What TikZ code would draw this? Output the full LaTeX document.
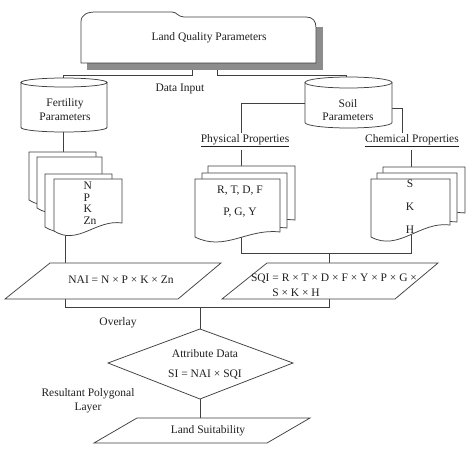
\documentclass[tikz,border=0pt]{standalone}
\usepackage{fontspec}
\setmainfont{Liberation Serif}
\usetikzlibrary{calc}
\definecolor{ln}{HTML}{404040}
\definecolor{shd}{HTML}{8C8C8C}
\definecolor{txt}{HTML}{202020}
\newcommand\docpage[5]{% x0 y0 x1 ybl ybr
  \pgfmathsetmacro\dpw{#3-#1}
  \pgfmathsetmacro\dpa{#1+0.35*\dpw}
  \pgfmathsetmacro\dpb{#1+0.62*\dpw}
  \pgfmathsetmacro\dpc{#4+15}
  \pgfmathsetmacro\dpd{#5-4}
  \draw[shapeline] (#1,#2) -- (#3,#2) -- (#3,#5) .. controls (\dpb,\dpd) and (\dpa,\dpc) .. (#1,#4) -- cycle;
}
\newcommand\cylshape[5]{% cx, cytop, rx, ry, cybottom
  \draw[shapeline] (#1-#3,#2) -- (#1-#3,#5) arc[start angle=180, end angle=0, x radius=#3, y radius=#4] -- (#1+#3,#2);
  \draw[shapeline] (#1,#2) ellipse[x radius=#3, y radius=#4];
}
\begin{document}
\begin{tikzpicture}[x=1pt,y=-1pt,line width=0.75pt,
  conn/.style={draw=ln,line width=0.75pt},
  shapeline/.style={draw=ln,fill=white,line width=0.75pt},
  lbl/.style={text=txt,font=\fontsize{11.5}{13.5}\selectfont,inner sep=0pt,align=center}]
\useasboundingbox[fill=white] (0,0) rectangle (474,449);

% ---------- coordinates for connectors
\coordinate (lqpA) at (192,70);
\coordinate (lqpB) at (217,70);
\coordinate (fertTop) at (63,79);
\coordinate (soilTop) at (346,78);
\coordinate (fertBot) at (63,130);
\coordinate (fdocTop) at (63,152);
\coordinate (soilL) at (305,103);
\coordinate (soilR) at (392,108);
\coordinate (physTop) at (241,133);
\coordinate (chemTop) at (402,133);
\coordinate (physBot) at (241,150);
\coordinate (chemBot) at (411,150);
\coordinate (pdocTop) at (241,167);
\coordinate (cdocTop) at (411,168);
\coordinate (fdocBot) at (65,225);
\coordinate (pdocBot) at (241,232);
\coordinate (cdocBot) at (411,228);
\coordinate (jP) at (241,253);
\coordinate (jC) at (411,253);
\coordinate (mergeS) at (329,253);
\coordinate (naiTop) at (65,263);
\coordinate (sqiTop) at (329,263);
\coordinate (naiBot) at (65,299);
\coordinate (sqiBot) at (329,299);
\coordinate (jN) at (65,307);
\coordinate (jS) at (329,307);
\coordinate (ovl) at (200,307);
\coordinate (diaTop) at (200,329);
\coordinate (diaBot) at (200,399);
\coordinate (lsTop) at (200,418);

% ---------- connectors
\draw[conn] (lqpA) -- ++(0,5) -| (fertTop);
\draw[conn] (lqpB) -- ++(0,5) -| (soilTop);
\draw[conn] (fertBot) -- (fdocTop);
\draw[conn] (soilL) -| (physTop);
\draw[conn] (soilR) -| (chemTop);
\draw[conn] (physBot) -- (pdocTop);
\draw[conn] (chemBot) -- (cdocTop);
\draw[conn] (fdocBot) -- (naiTop);
\draw[conn] (pdocBot) -- (jP) -- (jC) -- (cdocBot);
\draw[conn] (mergeS) -- (sqiTop);
\draw[conn] (naiBot) -- (jN) -- (jS) -- (sqiBot);
\draw[conn] (ovl) -- (diaTop);
\draw[conn] (diaBot) -- (lsTop);

% ---------- top box with shadow
\fill[shd] (87,27) rectangle (323,70);
\draw[shapeline] (81,63) -- (81,22) .. controls (81,14) and (88,12) .. (96,12) -- (172,12)
  .. controls (177,12) and (178,17) .. (184,17) -- (306,17)
  .. controls (313,17) and (316,21) .. (316,28) -- (316,63) -- cycle;
\node[lbl] (lqp) at (209,38) {Land Quality Parameters};
\node[lbl] (din) at (180,89) {Data Input};

% ---------- cylinders
\cylshape{64}{82.5}{43}{4.5}{127.5}
\node[lbl,font=\fontsize{11.5}{14}\selectfont] (fert) at (65,110) {Fertility\\Parameters};
\cylshape{348.5}{82.5}{43.5}{5.5}{122.5}
\node[lbl,font=\fontsize{11.5}{12.5}\selectfont] (soil) at (348,110) {Soil\\Parameters};

\node[lbl] (phys) at (245,141) {\underline{Physical Properties}};
\node[lbl] (chem) at (412,141) {\underline{Chemical Properties}};

% ---------- document stacks
\docpage{29}{152}{96}{200}{192}
\docpage{37}{157}{102}{208}{200}
\docpage{45}{174}{112}{227}{219}
\docpage{54}{179}{122}{231}{223}
\node[lbl,align=left,font=\fontsize{11.5}{11.5}\selectfont] (npk) at (90,203) {N\\P\\K\\Zn};

\docpage{208}{166}{295}{226}{220}
\docpage{202}{173}{287}{233}{228}
\docpage{195}{179}{280}{237}{232}
\node[lbl] (rtdf) at (240,191) {R, T, D, F};
\node[lbl] (pgy) at (240,213) {P, G, Y};

\docpage{383}{167}{465}{220}{213}
\docpage{377}{173}{457}{229}{222}
\docpage{371}{179}{450}{237}{225}
\node[lbl] (s) at (410,184) {S};
\node[lbl] (k) at (410,207) {K};
\node[lbl] (h) at (410,230) {H};

% ---------- parallelograms
\draw[shapeline] (50,263) -- (221,263) -- (178,299) -- (5,299) -- cycle;
\node[lbl] (nai) at (121,280) {NAI = N × P × K × Zn};
\draw[shapeline] (267,263) -- (438,263) -- (395,299) -- (222,299) -- cycle;
\node[lbl] (sqi1) at (334,279) {SQI = R × T × D × F × Y × P × G ×};
\node[lbl] (sqi2) at (296,293) {S × K × H};

\node[lbl] (ovlt) at (118,323) {Overlay};

% ---------- diamond
\draw[shapeline] (diaTop) -- (293,363) -- (diaBot) -- (108,363) -- cycle;
\node[lbl] (attr) at (205,354) {Attribute Data};
\node[lbl] (si) at (205,375) {SI = NAI × SQI};

\node[lbl] (rpl) at (88,401) {Resultant Polygonal\\Layer};

\draw[shapeline] (137,418) -- (310,418) -- (267,443) -- (94,443) -- cycle;
\node[lbl] (ls) at (208,431) {Land Suitability};
\end{tikzpicture}
\end{document}
